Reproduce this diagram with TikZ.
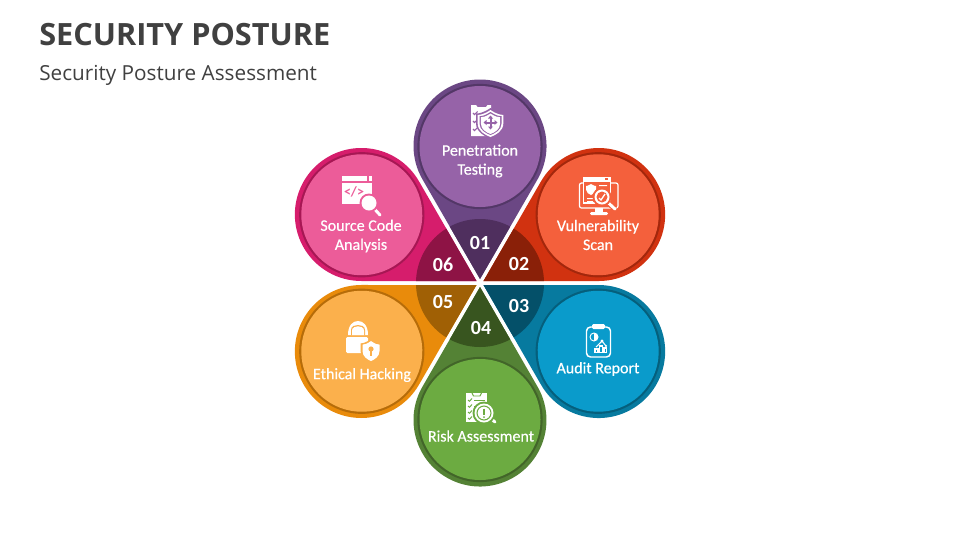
\documentclass[tikz,border=0pt]{standalone}
\usepackage{fontspec}
\setmainfont{Carlito}
\newfontfamily\headfont{Open Sans}
\newfontfamily\labelfont{Carlito}[FakeBold=0.5]
\definecolor{headgray}{HTML}{404040}
\definecolor{purpleRing}{HTML}{6B4784}
\definecolor{purpleMain}{HTML}{9663A8}
\definecolor{purpleCore}{HTML}{4F2F5E}
\definecolor{redRing}{HTML}{D13210}
\definecolor{redMain}{HTML}{F4603C}
\definecolor{redCore}{HTML}{8A2008}
\definecolor{blueRing}{HTML}{077A9F}
\definecolor{blueMain}{HTML}{0A9BCB}
\definecolor{blueCore}{HTML}{045069}
\definecolor{greenRing}{HTML}{548235}
\definecolor{greenMain}{HTML}{6CAB41}
\definecolor{greenCore}{HTML}{38551F}
\definecolor{orangeRing}{HTML}{E98B0B}
\definecolor{orangeMain}{HTML}{FBB04C}
\definecolor{orangeCore}{HTML}{A06005}
\definecolor{pinkRing}{HTML}{D61D6C}
\definecolor{pinkMain}{HTML}{EC5C99}
\definecolor{pinkCore}{HTML}{8E1345}
\tikzset{
	petal path/.style={insert path={(0,-4) -- (57.6,-103.75) arc[start angle=30,end angle=-210,radius=66.5] -- cycle}},
	label text/.style={text=white,align=center,font=\fontsize{12}{14.25}\selectfont\labelfont,inner sep=0pt},
	number text/.style={text=white,font=\fontsize{15}{16}\selectfont\bfseries,inner sep=0pt},
	icon line/.style={draw=white,line width=0.9pt,fill=none},
}
% args: centre x, top y, half width, height, colour
\newcommand{\shieldat}[5]{
	\fill[#5] (#1,#2) .. controls (#1+0.5*#3,#2+0.16*#4) and (#1+0.8*#3,#2+0.18*#4) .. (#1+#3,#2+0.18*#4)
		-- (#1+#3,#2+0.5*#4) .. controls (#1+#3,#2+0.78*#4) and (#1+0.4*#3,#2+0.93*#4) .. (#1,#2+#4)
		.. controls (#1-0.4*#3,#2+0.93*#4) and (#1-#3,#2+0.78*#4) .. (#1-#3,#2+0.5*#4)
		-- (#1-#3,#2+0.18*#4) .. controls (#1-0.8*#3,#2+0.18*#4) and (#1-0.5*#3,#2+0.16*#4) .. (#1,#2) -- cycle;
}
% args: centre x, centre y, radius, handle end x, handle end y, background
\newcommand{\lensat}[6]{
	\draw[#6,line width=4pt] (#1,#2) -- (#4,#5);
	\draw[white,line width=2.2pt,line cap=round] (#1,#2) -- (#4,#5);
	\fill[#6] (#1,#2) circle (#3+2);
	\fill[white] (#1,#2) circle (#3);
}
\begin{document}
\begin{tikzpicture}[x=0.75pt,y=-0.75pt]
	\useasboundingbox (0,0) rectangle (960,540);
	\node[anchor=base west,inner sep=0pt,text=headgray,font=\fontsize{23}{28}\selectfont\headfont\bfseries] (title) at (39,45.5) {SECURITY POSTURE};
	\node[anchor=base west,inner sep=0pt,text=headgray,font=\fontsize{15.55}{18}\selectfont\headfont] (subtitle) at (39,80) {Security Posture Assessment};

	\foreach \ang/\ringc/\mainc/\corec in {0/purpleRing/purpleMain/purpleCore,-60/redRing/redMain/redCore,-120/blueRing/blueMain/blueCore,-180/greenRing/greenMain/greenCore,-240/orangeRing/orangeMain/orangeCore,-300/pinkRing/pinkMain/pinkCore} {
		\begin{scope}[shift={(480,283)},rotate=\ang]
			\fill[\ringc,petal path];
			\begin{scope}
				\clip[petal path];
				\fill[\corec] (0,0) circle (64);
			\end{scope}
			\fill[\ringc!78!black] (0,-136.5) circle (62.6);
			\fill[\mainc] (0,-136.5) circle (60.5);
		\end{scope}
	}

	\node[number text] (num1) at (480,243) {01};
	\node[number text] (num2) at (519,264) {02};
	\node[number text] (num3) at (519,306) {03};
	\node[number text] (num4) at (481,328) {04};
	\node[number text] (num5) at (443,302) {05};
	\node[number text] (num6) at (443,265) {06};

	\node[label text] (label1) at (480,161) {Penetration\\Testing};
	\node[label text] (label2) at (598,235) {Vulnerability\\Scan};
	\node[label text] (label3) at (598,369) {Audit Report};
	\node[label text] (label4) at (481,436) {Risk Assessment};
	\node[label text] (label5) at (362,375) {Ethical Hacking};
	\node[label text] (label6) at (361,236) {Source Code\\Analysis};

	% penetration testing
	\fill[white] (471,105) -- (476,105) -- (477.5,107) -- (486,107) -- (487.5,105) -- (491,105) -- (491,136) -- (471,136) -- cycle;
	\foreach \yy in {113,121,129} {
		\draw[purpleMain,line width=0.8pt] (473,\yy) -- (474.5,\yy+1.5) -- (477.5,\yy-1.5);
	}
	\shieldat{490.5}{108}{14.5}{30.5}{purpleMain}
	\shieldat{490.5}{110}{12.8}{27}{white}
	\shieldat{490.5}{112}{11}{23}{purpleMain}
	\shieldat{490.5}{113.5}{9.6}{20.5}{white}
	\draw[purpleMain,line width=1.5pt] (486,122.5) -- (495,122.5) (490.5,118) -- (490.5,127);
	\fill[purpleMain] (490.5,115.5) -- (493,118.5) -- (488,118.5) -- cycle (490.5,129.5) -- (493,126.5) -- (488,126.5) -- cycle (483.5,122.5) -- (486.5,120) -- (486.5,125) -- cycle (497.5,122.5) -- (494.5,120) -- (494.5,125) -- cycle;

	% vulnerability scan
	\draw[icon line,rounded corners=1.5pt] (579.5,183) rectangle (618,208);
	\fill[redMain] (583,177) rectangle (611,204);
	\fill[white] (583,177) rectangle (611,181);
	\draw[white,line width=0.8pt] (583.4,181) rectangle (610.6,203);
	\fill[redMain] (605,178) rectangle (608,180);
	\shieldat{591}{184}{5}{11}{white}
	\fill[white] (587,198) rectangle (595,199) (599,185) rectangle (607,186) (599,188) rectangle (605,189) (587,201) rectangle (593,202);
	\lensat{602}{197}{7.5}{615}{209}{redMain}
	\fill[redMain] (602,197) circle (5.5);
	\draw[white,line width=1pt] (599,198) -- (601,200) -- (605,194);
	\fill[white] (595,208) rectangle (603,212);
	\fill[white,rounded corners=1pt] (590,212) rectangle (608,215);

	% audit report
	\draw[draw=white,line width=1.1pt,rounded corners=3pt] (586.5,327) rectangle (610.5,357);
	\fill[white,rounded corners=1pt] (592,324) rectangle (605,329);
	\fill[white] (594,337) -- (594,333) arc[start angle=-90,end angle=90,radius=4] -- cycle;
	\draw[white,line width=0.7pt] (594,337) circle (4);
	\draw[white,line width=0.8pt] (596,347) -- (602,341) -- (606,346);
	\fill[white] (602,341) circle (1.6) (606,346) circle (1.2);
	\draw[white,line width=0.8pt] (595,352.5) rectangle (598,349) (599.5,352.5) rectangle (602.5,346) (604,352.5) rectangle (606.5,348);

	% risk assessment
	\fill[white] (466,393) rectangle (487,422);
	\draw[greenMain,line width=0.7pt] (472,393) -- (473.5,396) -- (480,396) -- (481.5,393);
	\foreach \yy in {400,406,412,418} {
		\draw[greenMain,line width=0.7pt] (468,\yy) -- (469.5,\yy+1.3) -- (472,\yy-1.5);
		\draw[greenMain,line width=0.7pt] (474,\yy) -- (485,\yy);
	}
	\lensat{484}{413}{9.5}{495}{422}{greenMain}
	\draw[greenMain,line width=0.8pt] (484,413) circle (7);
	\draw[greenMain,line width=1.6pt] (484,408.5) -- (484,414.5);
	\fill[greenMain] (484,417) circle (1);

	% ethical hacking
	\fill[white] (348,335) .. controls (348,325) and (353,321) .. (358,321) .. controls (363,321) and (368,325) .. (368,335) -- cycle;
	\fill[orangeMain] (351,335) -- (351,330) .. controls (351,326) and (355,325) .. (358,325) .. controls (361,325) and (365,326) .. (365,330) -- (365,335) -- cycle;
	\fill[white] (352,335) -- (352,330.5) .. controls (352,327.5) and (355.5,326.3) .. (358,326.3) .. controls (360.5,326.3) and (364,327.5) .. (364,330.5) -- (364,335) -- cycle;
	\fill[white,rounded corners=1pt] (346,337) rectangle (368,353);
	\shieldat{371}{339}{10.5}{24}{orangeMain}
	\shieldat{371}{341}{8.5}{20}{white}
	\fill[orangeMain] (371,349) circle (2.6);
	\fill[orangeMain] (370,350) rectangle (372,356);

	% source code analysis
	\fill[white] (342,176) rectangle (367,180.5);
	\fill[white] (368.5,176) rectangle (372,180.5);
	\fill[white] (342,183) rectangle (372,204);
	\node[inner sep=0pt,text=pinkMain,font=\fontsize{10.5}{12}\selectfont\bfseries] (codemark) at (354,192) {</>};
	\lensat{369}{203}{7.5}{380}{215}{pinkMain}
\end{tikzpicture}
\end{document}
